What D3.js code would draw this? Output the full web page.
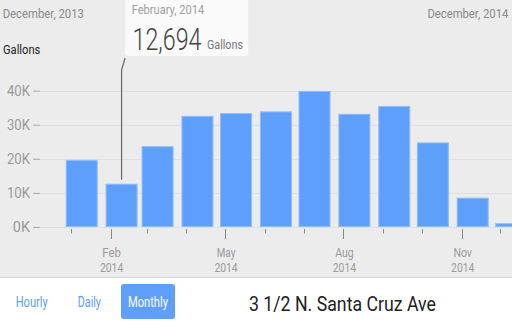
<!DOCTYPE html>
<html>
<head>
<meta charset="utf-8">
<script src="https://cdn.jsdelivr.net/npm/d3@7"></script>
<style>
  html, body { margin: 0; padding: 0; background: #ffffff; }
  svg { display: block; font-family: Roboto, "Noto Sans", sans-serif; }
</style>
</head>
<body>
<svg id="chart" width="512" height="325"></svg>
<script>
// Monthly water use, 2014
const months = ["2014-01-01", "2014-02-01", "2014-03-01", "2014-04-01", "2014-05-01", "2014-06-01",
                "2014-07-01", "2014-08-01", "2014-09-01", "2014-10-01", "2014-11-01", "2014-12-01"];
const gallons = [19700, 12694, 23700, 32600, 33400, 33900, 39900, 33200, 35500, 24800, 8600, 1100];
const yTicks = [0, 10000, 20000, 30000, 40000];
const majorMonths = ["2014-02-01", "2014-05-01", "2014-08-01", "2014-11-01"];
const rangeLabels = ["December, 2013", "December, 2014"];
const unitLabel = "Gallons";
const viewButtons = ["Hourly", "Daily", "Monthly"];
const activeView = "Monthly";
const address = "3 1/2 N. Santa Cruz Ave";
const selectedIndex = 1;

const parse = d3.utcParse("%Y-%m-%d");
const key = d3.utcFormat("%Y-%m-%d");
const data = months.map((m, i) => ({ date: parse(m), value: gallons[i] }));

// The UI face is a narrow Roboto; scale the installed Roboto horizontally to that width.
function squeeze(sel, w) {
  sel.each(function () {
    const n = this.getComputedTextLength();
    if (n > w) {
      const t = d3.select(this);
      const tx = +t.attr("x") || 0, ty = +t.attr("y") || 0;
      t.attr("x", 0).attr("y", 0)
        .attr("transform", `translate(${tx},${ty}) scale(${w / n},1)`);
    }
  });
  return sel;
}

const svg = d3.select("#chart");
const W = 512;

// chart panel background
svg.append("rect").attr("x", 0).attr("y", 0).attr("width", W).attr("height", 277)
  .attr("fill", "#ececec");
svg.append("line").attr("x1", 0).attr("x2", W).attr("y1", 277.5).attr("y2", 277.5)
  .attr("stroke", "#d6d6d6");

const x = d3.scaleUtc()
  .domain([parse("2014-01-01"), parse("2014-12-01")])
  .range([70.7, 500.3]);
const y = d3.scaleLinear().domain([0, 40000]).range([227, 90.6]);

// gridlines
svg.append("g").selectAll("line").data(yTicks).join("line")
  .attr("x1", 40).attr("x2", W)
  .attr("y1", d => Math.round(y(d)) + 0.5).attr("y2", d => Math.round(y(d)) + 0.5)
  .attr("stroke", "#e0e0e0").attr("stroke-width", 1);

// y axis
const yAxis = d3.axisLeft(y).tickValues(yTicks)
  .tickFormat(d => (d / 1000) + "K").tickSize(7).tickPadding(3);
const gy = svg.append("g").attr("transform", "translate(40,0)").call(yAxis);
gy.select(".domain").remove();
gy.selectAll(".tick line").attr("stroke", "#aaaaaa");
gy.selectAll(".tick text").attr("fill", "#9a9a9a").style("font-size", "14.5px")
  .style("font-family", "Roboto, sans-serif")
  .each(function (d) { squeeze(d3.select(this), d === 0 ? 18.5 : 23); });

// bars
const barW = 32, barOffset = -5;
svg.append("g").selectAll("rect").data(data).join("rect")
  .attr("x", d => x(d.date) + barOffset + 0.5)
  .attr("y", d => y(d.value) + 0.5)
  .attr("width", barW - 1)
  .attr("height", d => y(0) - y(d.value) - 1)
  .attr("fill", "#5e9ffb")
  .attr("stroke", "#8dbdfc")
  .attr("stroke-width", 1);

// x axis ticks and labels
const majorSet = new Set(majorMonths);
const gx = svg.append("g");
gx.selectAll("line").data(data).join("line")
  .attr("x1", d => Math.round(x(d.date)) + 0.5)
  .attr("x2", d => Math.round(x(d.date)) + 0.5)
  .attr("y1", 229)
  .attr("y2", d => majorSet.has(key(d.date)) ? 239 : 233.5)
  .attr("stroke", "#8a8a8a").attr("stroke-width", 1);
const majors = data.filter(d => majorSet.has(key(d.date)));
const monthLbl = gx.selectAll("text.m").data(majors).join("text").attr("class", "m")
  .attr("x", d => x(d.date) + 1).attr("y", 257.3)
  .attr("text-anchor", "middle").attr("fill", "#9a9a9a").style("font-size", "12.5px")
  .text(d => d3.utcFormat("%b")(d.date));
squeeze(monthLbl, 18.5);
const yearLbl = gx.selectAll("text.yr").data(majors).join("text").attr("class", "yr")
  .attr("x", d => x(d.date) + 1).attr("y", 271.7)
  .attr("text-anchor", "middle").attr("fill", "#9a9a9a").style("font-size", "12.5px")
  .text(d => d3.utcFormat("%Y")(d.date));
squeeze(yearLbl, 23.3);

// header labels
squeeze(svg.append("text").attr("x", 2.7).attr("y", 17.5).attr("fill", "#8a8a8a")
  .style("font-size", "12.5px").text(rangeLabels[0]), 81.3);
squeeze(svg.append("text").attr("x", 508.3).attr("y", 17.5).attr("text-anchor", "end")
  .attr("fill", "#8a8a8a").style("font-size", "12.5px").text(rangeLabels[1]), 81);
squeeze(svg.append("text").attr("x", 3).attr("y", 54).attr("fill", "#222222")
  .style("font-size", "12.5px").text(unitLabel), 37.3);

// callout for the selected month
const sel = data[selectedIndex];
const cx = x(sel.date) + barOffset + barW / 2;
svg.append("path")
  .attr("d", `M${cx + 3.5},58 L${cx},70 L${cx},${y(sel.value) - 4}`)
  .attr("fill", "none").attr("stroke", "#666666").attr("stroke-width", 1.2);
svg.append("rect").attr("x", 125).attr("y", -6).attr("width", 123.3).attr("height", 62)
  .attr("rx", 4).attr("fill", "#fafafa");
squeeze(svg.append("text").attr("x", 131.7).attr("y", 13.5).attr("fill", "#a0a0a0")
  .style("font-size", "12px").text(d3.utcFormat("%B, %Y")(sel.date)), 72.6);
squeeze(svg.append("text").attr("x", 132.5).attr("y", 50).attr("fill", "#444444")
  .style("font-size", "30.5px").style("font-weight", 300)
  .text(d3.format(",")(sel.value)), 69);
squeeze(svg.append("text").attr("x", 207).attr("y", 48.5).attr("fill", "#777777")
  .style("font-size", "12px").text(unitLabel), 36);

// view buttons
const btnX = [15.7, 77.7, 128];
const btnW = [32, 23.3, 40];
viewButtons.forEach((b, i) => {
  if (b === activeView) {
    svg.append("rect").attr("x", 121).attr("y", 284).attr("width", 54).attr("height", 35)
      .attr("rx", 3).attr("fill", "#5e9ffb");
  }
  squeeze(svg.append("text").attr("x", btnX[i]).attr("y", 306.7)
    .attr("fill", b === activeView ? "#ffffff" : "#5a9ff7")
    .style("font-size", "14px").text(b), btnW[i]);
});

squeeze(svg.append("text").attr("x", 249).attr("y", 310.7).attr("fill", "#222222")
  .style("font-size", "20.5px").text(address), 187);
</script>
</body>
</html>
